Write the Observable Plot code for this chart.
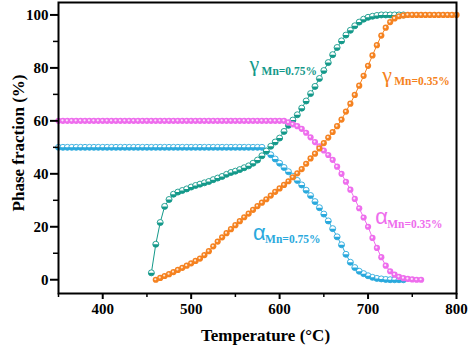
<!DOCTYPE html>
<html><head><meta charset="utf-8">
<script src="https://cdn.jsdelivr.net/npm/d3@7"></script>
<script src="https://cdn.jsdelivr.net/npm/@observablehq/plot@0.6"></script>
<style>body{margin:0;background:#fff}</style>
</head><body><div id="chart"></div>
<script>
// Temperature grid (°C)
const temps = [350,355,360,365,370,375,380,385,390,395,400,405,410,415,420,425,430,435,440,445,450,455,
460,465,470,475,480,485,490,495,500,505,510,515,520,525,530,535,540,545,550,555,560,565,570,575,580,585,
590,595,600,605,610,615,620,625,630,635,640,645,650,655,660,665,670,675,680,685,690,695,700,705,710,715,
720,725,730,735,740,745,750,755,760,765,770,775,780,785,790,795,800];

// γ (Mn=0.75%)
const gamma075 = [null,null,null,null,null,null,null,null,null,null,null,null,null,null,null,null,null,null,null,null,null,
2.6,13.4,21.6,27.7,30.3,32.3,33.1,33.7,34.3,35.0,35.6,36.1,36.6,37.1,37.8,38.4,39.0,39.8,40.5,41.0,41.6,42.3,43.0,44.0,45.2,46.8,
48.6,50.4,52.0,53.5,56.0,58.3,60.3,62.3,64.8,67.5,70.3,73.0,76.0,79.0,82.0,85.0,87.7,90.2,92.4,94.2,95.9,97.3,98.4,99.1,99.5,99.8,
100,100,100,100,100,100,
null,null,null,null,null,null,null,null,null,null,null,null];

// α (Mn=0.75%)
const alpha075 = [50,50,50,50,50,50,50,50,50,50,50,50,50,50,50,50,50,50,50,50,50,50,50,50,50,50,50,50,50,50,50,50,50,50,50,50,50,50,50,50,50,50,50,50,50,50,50,
48.5,47.2,45.6,44.0,42.4,40.8,39.1,37.5,35.8,33.8,31.8,29.5,27.2,24.8,22.2,19.3,16.2,13.2,9.6,6.6,4.6,3.2,2.3,1.5,0.9,0.5,0.3,0.1,0,0,0,0,
null,null,null,null,null,null,null,null,null,null,null,null];

// α (Mn=0.35%)
const alpha035 = [60,60,60,60,60,60,60,60,60,60,60,60,60,60,60,60,60,60,60,60,60,60,60,60,60,60,60,60,60,60,60,60,60,60,60,60,60,60,60,60,60,60,60,60,60,60,60,60,60,60,60,60,
59.4,58.7,58.0,57.0,55.5,53.8,52.0,50.4,48.8,47.1,45.3,42.7,40.0,37.0,34.0,30.5,27.0,23.5,20.0,15.8,12.0,8.5,5.3,3.2,1.9,1.1,0.6,0.3,0.1,0,0,
null,null,null,null,null,null,null,null];

// γ (Mn=0.35%)
const gamma035 = [null,null,null,null,null,null,null,null,null,null,null,null,null,null,null,null,null,null,null,null,null,null,
0,0.7,1.4,2.1,2.9,3.7,4.5,5.3,6.2,7.1,8.0,9.3,10.8,12.6,14.4,16.0,17.6,19.1,20.6,22.1,23.6,25.0,26.4,27.8,29.1,30.4,31.8,33.2,34.5,35.8,
37.2,38.7,40.2,41.8,43.8,45.8,47.6,49.6,51.6,53.7,55.8,58.0,60.5,63.5,66.5,69.8,73.3,77.0,80.8,84.7,88.6,92.2,95.2,97.3,98.7,99.5,99.8,
100,100,100,100,100,100,100,100,100,100,100,100];

const xTicks = [400,500,600,700,800];
const xMinorTicks = [350,450,550,650,750];
const yTicks = [0,20,40,60,80,100];
const yMinorTicks = [10,30,50,70,90];

const labelLetters = ["γ","γ","α","α"];
const labelSubs = ["Mn=0.75%","Mn=0.35%","Mn=0.75%","Mn=0.35%"];
const labelT = [566, 716, 570, 708];
const labelV = [81.5, 77.4, 17.8, 23.7];
const labelColors = ["#14998a","#f58220","#2aa9dd","#ee6ded"];

const cTeal = "#14998a", cOrange = "#f58220", cCyan = "#2aa9dd", cPink = "#ee6ded";

const rows = vals => temps.map((t, i) => ({t, v: vals[i]})).filter(d => d.v != null);
const labels = labelLetters.map((l, i) => ({l, s: labelSubs[i], t: labelT[i], v: labelV[i], c: labelColors[i]}));
const gammaLabels = labels.filter(d => d.l === "γ");
const alphaLabels = labels.filter(d => d.l === "α");

const halfBottom = {draw(ctx, size) { const r = Math.sqrt(size / Math.PI); ctx.moveTo(r, 0); ctx.arc(0, 0, r, 0, Math.PI); ctx.closePath(); }};

function halfSeries(vals, color) {
  const d = rows(vals);
  return [
    Plot.line(d, {x: "t", y: "v", stroke: color, strokeWidth: 1}),
    Plot.dot(d, {x: "t", y: "v", r: 3, fill: "white", stroke: color, strokeWidth: 0.9}),
    Plot.dot(d, {x: "t", y: "v", r: 3, symbol: halfBottom, fill: color, stroke: "none"})
  ];
}
function ballSeries(vals, color) {
  const d = rows(vals);
  return [
    Plot.line(d, {x: "t", y: "v", stroke: color, strokeWidth: 1}),
    Plot.dot(d, {x: "t", y: "v", r: 3.1, fill: color, stroke: "none"}),
    Plot.dot(d, {x: "t", y: "v", r: 1.1, fill: "white", fillOpacity: 0.8, stroke: "none", dx: -0.5, dy: -0.5})
  ];
}

const chart = Plot.plot({
  width: 474, height: 362,
  marginLeft: 58, marginRight: 18, marginTop: 2, marginBottom: 69,
  x: {domain: [350, 800]},
  y: {domain: [-5.2, 104.7]},
  color: {type: "identity"},
  style: {fontFamily: "'Liberation Serif', serif", fontWeight: "bold", fontSize: "15px", color: "black", background: "white"},
  marks: [
    ...halfSeries(alpha075, cCyan),
    ...halfSeries(gamma075, cTeal),
    ...ballSeries(alpha035, cPink),
    ...ballSeries(gamma035, cOrange),
    Plot.frame({stroke: "black", strokeWidth: 2}),
    Plot.axisX({ticks: xTicks, tickSize: 6, tickPadding: 4, fontSize: 15, fontWeight: "bold", label: null, strokeWidth: 2}),
    Plot.axisX({ticks: xMinorTicks, tickSize: 4, text: null, label: null, strokeWidth: 1.5}),
    Plot.axisY({ticks: yTicks, tickSize: 8, tickPadding: 2, fontSize: 15, fontWeight: "bold", label: null, strokeWidth: 2}),
    Plot.axisY({ticks: yMinorTicks, tickSize: 5, text: null, label: null, strokeWidth: 1.5}),
    Plot.text(["Temperature (°C)"], {frameAnchor: "bottom", textAnchor: "middle", lineAnchor: "middle", dx: 8, dy: 42, fontSize: 17, fontWeight: "bold"}),
    Plot.text(["Phase fraction (%)"], {frameAnchor: "left", textAnchor: "middle", lineAnchor: "middle", dx: -40, dy: -5, rotate: -90, fontSize: 17, fontWeight: "bold"}),
    Plot.text(gammaLabels, {x: "t", y: "v", text: "l", fill: "c", textAnchor: "start", fontSize: 22, fontWeight: "normal", fontFamily: "'Liberation Serif', serif"}),
    Plot.text(alphaLabels, {x: "t", y: "v", text: "l", fill: "c", textAnchor: "start", fontSize: 22, fontWeight: "normal", fontFamily: "'Liberation Sans', sans-serif"}),
    Plot.text(labels, {x: "t", y: "v", text: "s", fill: "c", textAnchor: "start", fontSize: 11.5, fontWeight: "bold", dx: 12, dy: 7})
  ]
});
document.getElementById("chart").appendChild(chart);
</script>
</body></html>
